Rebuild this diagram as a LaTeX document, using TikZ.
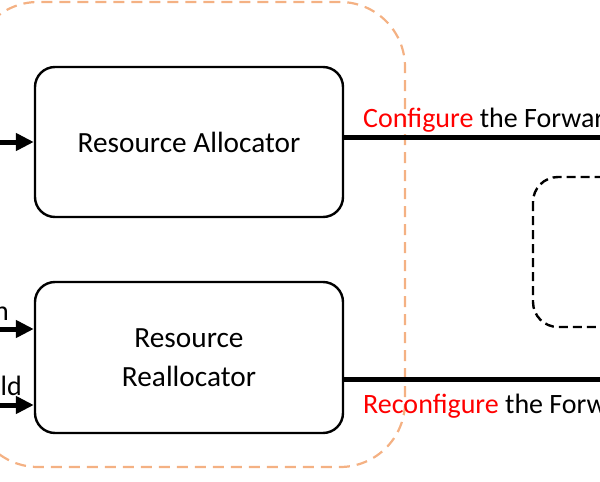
\documentclass[tikz,border=0pt]{standalone}
\usepackage{fontspec}
\setmainfont{Carlito}
\usetikzlibrary{arrows.meta}
\definecolor{grporange}{HTML}{F4B183}
\begin{document}
\begin{tikzpicture}[x=1pt,y=-1pt,
  block/.style={draw=black,line width=2.4pt,rounded corners=20pt,minimum width=308pt,minimum height=150pt,inner sep=0pt,align=center,font=\fontsize{29.3}{39}\selectfont},
  thickline/.style={line width=5pt},
  arrowline/.style={line width=5pt,-{Triangle[length=18pt,width=17pt]}},
  lbl/.style={font=\fontsize{28}{32}\selectfont,inner sep=0pt},
  grp/.style={draw=grporange,line width=2.2pt,dash pattern=on 11pt off 7pt,rounded corners=65pt},
  fwd/.style={draw=black,line width=2.4pt,dash pattern=on 9pt off 5pt,rounded corners=25pt}]
\useasboundingbox (0,0) rectangle (600,482);
\clip (0,0) rectangle (600,482);
\draw[grp] (-27,2) rectangle (405,467);
\draw[fwd] (533,177) rectangle (720,327);
\node[block] (alloc) at (189,142) {Resource Allocator};
\node[block,minimum height=151pt] (realloc) at (189,357.5) {Resource\\Reallocator};
\coordinate (in1) at (-2,142);
\coordinate (in2) at (-2,329);
\coordinate (in3) at (-2,405);
\coordinate (out1) at (605,137);
\coordinate (out2) at (605,379);
\draw[arrowline] (in1) -- (alloc.west |- in1);
\draw[arrowline] (in2) -- (realloc.west |- in2);
\draw[arrowline] (in3) -- (realloc.west |- in3);
\draw[thickline] (alloc.east |- out1) -- (out1);
\draw[thickline] (realloc.east |- out2) -- (out2);
\node[lbl,anchor=base east] (tn) at (9,320) {n};
\node[lbl,anchor=base east] (tld) at (22,395) {ld};
\node[lbl,anchor=base west] (cfg) at (363,127) {\textcolor{red}{Configure} the Forwar};
\node[lbl,anchor=base west] (rcfg) at (363,413) {\textcolor{red}{Reconfigure} the Forw};
\end{tikzpicture}
\end{document}
